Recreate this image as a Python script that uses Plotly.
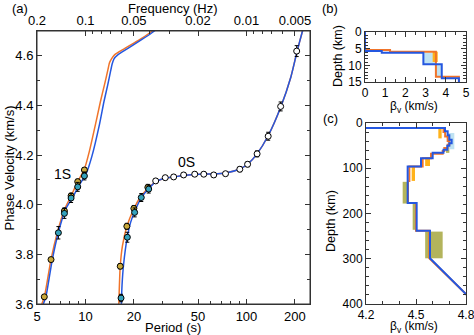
import plotly.graph_objects as go

W, H = 474, 335
FONT = "Liberation Sans, Arial, sans-serif"
ORANGE = "#F0742A"
BLUE = "#2457E0"
GOLD = "#C9A83A"
TEAL = "#35A2BC"
OLIVE = "#B3B45C"
AMBER = "#FFB21A"
SKY = "#BFE2F2"


def px(x):
    return x / W


def py(y):
    return 1 - y / H


# ---- (a) phase-velocity dispersion ----
s1_orange_period = [5.357, 5.553, 6.112, 6.690, 7.396, 8.142, 8.950, 9.851, 10.58, 11.65,
                    12.39, 13.13, 13.70, 14.10, 14.51, 15.15, 17.48, 21.68, 25.01, 28.05]
s1_orange_vel = [3.600, 3.628, 3.780, 3.888, 3.980, 4.036, 4.093, 4.144, 4.216, 4.336,
                 4.416, 4.484, 4.536, 4.572, 4.588, 4.604, 4.629, 4.665, 4.692, 4.716]
s1_blue_period = [5.473, 5.674, 6.227, 6.786, 7.503, 8.295, 9.170, 10.14, 10.97, 12.22,
                  13.03, 13.76, 14.30, 14.66, 15.04, 15.81, 18.25, 22.31, 25.75, 28.84]
s1_blue_vel = [3.600, 3.628, 3.780, 3.888, 3.980, 4.028, 4.080, 4.128, 4.196, 4.324,
               4.416, 4.484, 4.536, 4.568, 4.588, 4.603, 4.629, 4.665, 4.692, 4.716]

s0_blue_period = [16.70, 16.87, 17.23, 18.17, 19.05, 20.18, 22.21, 24.66, 27.26, 31.47,
                  35.30, 40.74, 47.71, 54.27, 62.65, 74.37, 90.93, 102.0, 116.0, 135.8,
                  163.7, 188.9, 205.9, 221.1, 230.8]
s0_blue_vel = [3.600, 3.676, 3.756, 3.868, 3.928, 3.972, 4.028, 4.064, 4.092, 4.108,
               4.112, 4.118, 4.122, 4.124, 4.124, 4.128, 4.144, 4.164, 4.204, 4.276,
               4.396, 4.516, 4.616, 4.692, 4.736]
s0_orange_period = [16.11, 16.44, 16.99, 18.07, 19.98, 21.99, 24.66, 27.26, 31.47, 35.30,
                    40.74, 47.71, 54.27, 62.65, 74.37, 90.93, 102.0, 116.0, 135.8, 163.7,
                    188.9, 205.9, 221.1, 230.8]
s0_orange_vel = [3.600, 3.752, 3.836, 3.912, 3.984, 4.032, 4.068, 4.092, 4.108, 4.112,
                 4.118, 4.122, 4.124, 4.124, 4.128, 4.144, 4.164, 4.204, 4.276, 4.396,
                 4.516, 4.616, 4.692, 4.736]

# measurements
gold_period = [5.55, 6.11, 7.40, 8.14, 8.95, 9.85, 16.44, 18.07, 19.98, 24.4]
gold_vel = [3.629, 3.779, 3.975, 4.036, 4.093, 4.140, 3.752, 3.913, 3.985, 4.070]
gold_err = [0.008, 0.008, 0.012, 0.010, 0.010, 0.010, 0.010, 0.012, 0.012, 0.012]
teal_period = [6.79, 7.40, 8.14, 8.95, 9.85, 16.63, 18.20, 20.20, 22.21, 24.70]
teal_vel = [3.887, 3.965, 4.027, 4.072, 4.116, 3.624, 3.869, 3.969, 4.029, 4.063]
teal_err = [0.025, 0.020, 0.018, 0.018, 0.016, 0.015, 0.020, 0.018, 0.016, 0.016]
open_period = [27.3, 31.3, 35.3, 40.7, 47.7, 54.3, 62.6, 74.1, 90.9, 101.6, 116.4,
               136.4, 163.0, 205.0]
open_vel = [4.096, 4.109, 4.112, 4.120, 4.123, 4.123, 4.120, 4.125, 4.143, 4.163,
            4.205, 4.276, 4.396, 4.619]
open_err = [0.008, 0.008, 0.008, 0.008, 0.008, 0.008, 0.008, 0.008, 0.010, 0.010,
            0.012, 0.016, 0.018, 0.022]

period_ticks = [5, 10, 20, 50, 100, 200]
period_minor = [6, 7, 8, 9, 30, 40, 60, 70, 80, 90]
freq_ticks = [0.2, 0.1, 0.05, 0.02, 0.01, 0.005]
freq_minor = [0.09, 0.08, 0.07, 0.06, 0.04, 0.03, 0.009, 0.008, 0.007, 0.006]

# ---- (b) shallow structure: layer tops (km) and velocities (km/s) ----
b_blue_top = [0, 5.7, 6.2, 9.7, 13.9]
b_blue_vs = [0, 0.83, 2.89, 3.80, 4.65]
b_orange_top = [0, 5.4, 5.9, 13.4]
b_orange_vs = [0, 1.24, 3.51, 4.65]
b_bottom = 16
b_sky_boxes = [(2.89, 3.51, 6.2, 9.7), (3.51, 3.80, 9.7, 13.4)]
b_amber_boxes = [(3.35, 3.60, 5.9, 9.0)]
b_ticks = [0, 1, 2, 3, 4, 5]

# ---- (c) mantle structure ----
c_blue_top = [0, 11, 18, 27, 37, 45, 50, 59, 66, 78, 96, 177, 238]
c_blue_vs = [3.8, 4.674, 4.690, 4.700, 4.714, 4.700, 4.688, 4.665, 4.600, 4.530, 4.450, 4.504, 4.584]
c_orange_top = [0, 11, 20, 30, 40, 48, 55, 62, 68, 78, 96, 128, 177, 238]
c_orange_vs = [3.8, 4.665, 4.675, 4.690, 4.700, 4.690, 4.670, 4.660, 4.590, 4.540, 4.460, 4.452, 4.500, 4.580]
c_grad_top = 299
c_grad_bottom = (400, 4.86)
c_olive_boxes = [(4.420, 4.450, 130, 178), (4.480, 4.505, 177, 236), (4.555, 4.660, 240, 299),
                 (4.680, 4.700, 58, 66)]
c_amber_boxes = [(4.634, 4.654, 12, 34), (4.555, 4.584, 76, 95), (4.474, 4.494, 96, 128)]
c_sky_boxes = [(4.690, 4.730, 22, 58)]
c_ticks = [4.2, 4.5, 4.8]


def step_profile(tops, vs, bottom):
    xs, ys = [], []
    bounds = tops[1:] + [bottom]
    for v, t, b in zip(vs, tops, bounds):
        xs += [v, v]
        ys += [t, b]
    return xs, ys


fig = go.Figure()

# dispersion curves
for per, vel, col in [(s1_orange_period, s1_orange_vel, ORANGE), (s1_blue_period, s1_blue_vel, BLUE),
                      (s0_orange_period, s0_orange_vel, ORANGE), (s0_blue_period, s0_blue_vel, BLUE)]:
    fig.add_trace(go.Scatter(x=per, y=vel, mode="lines", line=dict(color=col, width=1.5, shape="spline", smoothing=0.6),
                             xaxis="x", yaxis="y", showlegend=False, hoverinfo="skip"))

for per, vel, err, fill in [(open_period, open_vel, open_err, "white"), (gold_period, gold_vel, gold_err, GOLD),
                            (teal_period, teal_vel, teal_err, TEAL)]:
    fig.add_trace(go.Scatter(x=per, y=vel, mode="markers",
                             marker=dict(symbol="circle", size=6, color=fill, line=dict(color="black", width=1)),
                             error_y=dict(type="data", array=err, color="black", thickness=1, width=2),
                             xaxis="x", yaxis="y", showlegend=False))

# anchor for the frequency axis
fig.add_trace(go.Scatter(x=[None], y=[None], xaxis="x2", yaxis="y", showlegend=False))

# panel b profiles
xb, yb = step_profile(b_orange_top, b_orange_vs, b_bottom)
fig.add_trace(go.Scatter(x=xb, y=yb, mode="lines", line=dict(color=ORANGE, width=2), xaxis="x3", yaxis="y3", showlegend=False))
xb, yb = step_profile(b_blue_top, b_blue_vs, b_bottom)
fig.add_trace(go.Scatter(x=xb, y=yb, mode="lines", line=dict(color=BLUE, width=2), xaxis="x3", yaxis="y3", showlegend=False))

# panel c profiles
for tops, vs, col in [(c_orange_top, c_orange_vs, ORANGE), (c_blue_top, c_blue_vs, BLUE)]:
    xc, yc = step_profile(tops, vs, c_grad_top)
    xc.append(c_grad_bottom[1])
    yc.append(c_grad_bottom[0])
    fig.add_trace(go.Scatter(x=xc, y=yc, mode="lines", line=dict(color=col, width=2), xaxis="x4", yaxis="y4", showlegend=False))

shapes = []
for boxes, col, xr, yr in [(b_sky_boxes, SKY, "x3", "y3"), (b_amber_boxes, AMBER, "x3", "y3"),
                           (c_sky_boxes, SKY, "x4", "y4"), (c_olive_boxes, OLIVE, "x4", "y4"),
                           (c_amber_boxes, AMBER, "x4", "y4")]:
    for x0, x1, y0, y1 in boxes:
        shapes.append(dict(type="rect", xref=xr, yref=yr, x0=x0, x1=x1, y0=y0, y1=y1,
                           fillcolor=col, line=dict(width=0), layer="below"))

axis_common = dict(showline=True, linecolor="#333", linewidth=1, ticks="inside", ticklen=5,
                   tickcolor="#333", showgrid=False, zeroline=False, automargin=False,
                   ticklabeloverflow="allow",
                   tickfont=dict(family=FONT, size=13, color="black"))
small_tick = dict(family=FONT, size=12, color="black")

fig.update_layout(
    width=W, height=H, margin=dict(l=0, r=0, t=0, b=0, autoexpand=False),
    paper_bgcolor="white", plot_bgcolor="white", shapes=shapes,
    font=dict(family=FONT, size=13, color="black"),
    xaxis=dict(axis_common, type="log", range=[0.69897, 2.3945], domain=[px(37), px(310)],
               anchor="y", side="bottom", tickvals=period_ticks, ticktext=[str(v) for v in period_ticks],
               minor=dict(tickvals=period_minor, ticklen=3, tickcolor="#333", ticks="inside"), mirror=False),
    xaxis2=dict(axis_common, type="log", range=[0.69897, 2.3945], overlaying="x", anchor="y", side="top",
                tickvals=[1 / f for f in freq_ticks], ticktext=[str(f) for f in freq_ticks],
                minor=dict(tickvals=[1 / f for f in freq_minor], ticklen=3, tickcolor="#333", ticks="inside")),
    yaxis=dict(axis_common, range=[3.6, 4.7], domain=[py(304), py(31)], anchor="x",
               tickvals=[3.6, 3.8, 4.0, 4.2, 4.4, 4.6], ticktext=["3.6", "3.8", "4.0", "4.2", "4.4", "4.6"],
               minor=dict(dtick=0.1, ticklen=3, tickcolor="#333", ticks="inside"), mirror="ticks"),
    xaxis3=dict(axis_common, range=[-0.0005, 5.0005], domain=[px(365), px(466)], anchor="y3",
                tickvals=b_ticks, ticktext=[str(v) for v in b_ticks], tickfont=small_tick,
                minor=dict(dtick=0.5, ticklen=3, tickcolor="#333", ticks="inside"), mirror="ticks"),
    yaxis3=dict(axis_common, range=[15, 0], domain=[py(82), py(32)], anchor="x3", tickvals=[0, 5, 10, 15],
                tickfont=small_tick,
                minor=dict(dtick=1, ticklen=3, tickcolor="#333", ticks="inside"), mirror="ticks"),
    xaxis4=dict(axis_common, range=[4.1999, 4.8001], domain=[px(366), px(466)], anchor="y4",
                tickvals=c_ticks, ticktext=["%.1f" % v for v in c_ticks], tickfont=small_tick,
                minor=dict(tickvals=[4.3, 4.4, 4.6, 4.7], ticklen=3, tickcolor="#333", ticks="inside"),
                mirror="ticks"),
    yaxis4=dict(axis_common, range=[400, 0], domain=[py(304), py(123)], anchor="x4", dtick=100,
                tickfont=small_tick,
                minor=dict(dtick=20, ticklen=3, tickcolor="#333", ticks="inside"), mirror="ticks"),
)

# closed frame around panel (a)
fig.add_shape(type="rect", xref="paper", yref="paper", x0=px(37), x1=px(310), y0=py(304), y1=py(31),
              line=dict(color="#333", width=1), layer="above")

# text, x, y, rotation, size, xanchor, yanchor
ann = [
    ("(a)", 11, 0, 0, 13, "left", "top"),
    ("Frequency (Hz)", 173, 0, 0, 13, "center", "top"),
    ("Period (s)", 173, 336, 0, 13, "center", "bottom"),
    ("Phase Velocity (km/s)", 0, 168, -90, 13, "left", "middle"),
    ("1S", 62, 174, 0, 14, "center", "middle"),
    ("0S", 186, 162, 0, 14, "center", "middle"),
    ("(b)", 321, 0, 0, 13, "left", "top"),
    ("Depth (km)", 330, 56, -90, 12.5, "left", "middle"),
    ("β<sub>v</sub> (km/s)", 414, 116, 0, 12, "center", "bottom"),
    ("(c)", 322, 110, 0, 13, "left", "top"),
    ("Depth (km)", 323, 221, -90, 12.5, "left", "middle"),
    ("β<sub>v</sub> (km/s)", 414, 336, 0, 12, "center", "bottom"),
]
for text, x, y, ang, size, xa, ya in ann:
    fig.add_annotation(text=text, x=px(x), y=py(y), xref="paper", yref="paper", showarrow=False,
                       textangle=ang, font=dict(family=FONT, size=size, color="black"),
                       xanchor=xa, yanchor=ya, borderpad=0)

fig.write_html("out.html")
